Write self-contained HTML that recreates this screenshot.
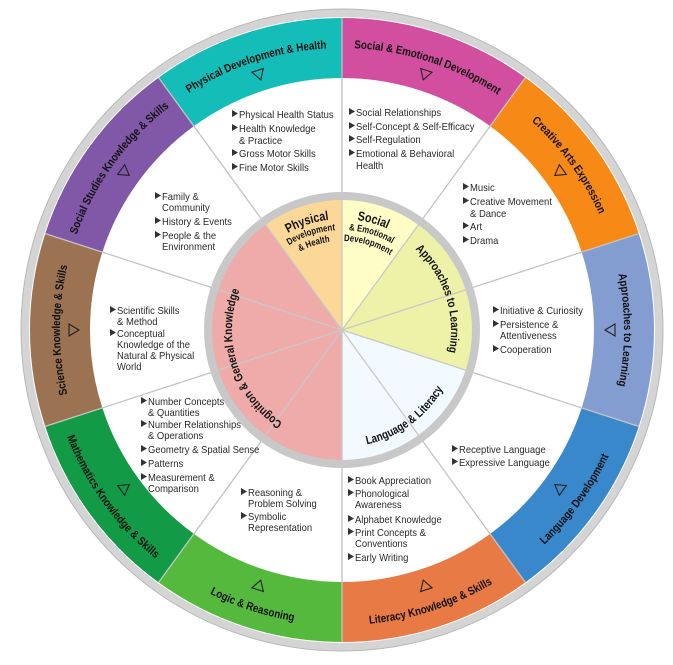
<!DOCTYPE html>
<html><head><meta charset="utf-8">
<style>
html,body{margin:0;padding:0;background:#fff;width:673px;height:665px;overflow:hidden}
svg{display:block}
.b{font-family:"Liberation Sans Narrow","Liberation Sans",sans-serif;font-weight:bold;fill:#111}
.l{font-family:"Liberation Sans Narrow","Liberation Sans",sans-serif;font-size:10.5px;fill:#2a2a2a}
</style></head>
<body>
<svg id="s" width="673" height="665" viewBox="0 0 673 665" xmlns="http://www.w3.org/2000/svg"></svg>
<script>
const cx=342,cy=330;
const s=document.getElementById('s');
function rad(a){return a*Math.PI/180}
function pt(r,a){return [cx+r*Math.sin(rad(a)),cy-r*Math.cos(rad(a))]}
function f(p){return p[0].toFixed(2)+" "+p[1].toFixed(2)}
let h='';
h+=`<circle cx="${cx}" cy="${cy}" r="321" fill="#d4d4d4" stroke="#b8b8b8" stroke-width="1"/>`;
h+=`<circle cx="${cx}" cy="${cy}" r="313" fill="#fff"/>`;
function band(R,r,a1,a2,col){
 return `<path d="M${f(pt(R,a1))} A${R} ${R} 0 0 1 ${f(pt(R,a2))} L${f(pt(r,a2))} A${r} ${r} 0 0 0 ${f(pt(r,a1))} Z" fill="${col}"/>`;
}
const segs=[
 [0,"#d24e9f","Social & Emotional Development"],
 [36,"#f78a16","Creative Arts Expression"],
 [72,"#849dd0","Approaches to Learning"],
 [108,"#3a88cc","Language Development"],
 [144,"#e87a45","Literacy Knowledge & Skills"],
 [180,"#55b93d","Logic & Reasoning"],
 [216,"#129a47","Mathematics Knowledge & Skills"],
 [252,"#9b7353","Science Knowledge & Skills"],
 [288,"#8157a7","Social Studies Knowledge & Skills"],
 [324,"#14bdb8","Physical Development & Health"]];
let defs='';
segs.forEach((g,i)=>{h+=band(312,252,g[0],g[0]+36,g[1]);});
for(let i=0;i<10;i++){const a=i*36;const p1=pt(137,a),p2=pt(312,a);h+=`<line x1="${p1[0].toFixed(2)}" y1="${p1[1].toFixed(2)}" x2="${p2[0].toFixed(2)}" y2="${p2[1].toFixed(2)}" stroke="#c4c4c4" stroke-width="1.3"/>`;}
segs.forEach((g,i)=>{
 const c=g[0]+18;const ccw=(c>90&&c<250);
 const rr=ccw?295:282;
 let d;
 if(!ccw) d=`M${f(pt(rr,c-60))} A${rr} ${rr} 0 0 1 ${f(pt(rr,c+60))}`;
 else d=`M${f(pt(rr,c+60))} A${rr} ${rr} 0 0 0 ${f(pt(rr,c-60))}`;
 defs+=`<path id="p${i}" d="${d}"/>`;
 h+=`<text class="b sq" data-k="0.85" font-size="11.5"><textPath href="#p${i}" startOffset="50%" text-anchor="middle">${g[2].replace(/&/g,'&amp;')}</textPath></text>`;
 const t=pt(268,c);
 h+=`<g transform="translate(${t[0].toFixed(1)} ${t[1].toFixed(1)}) rotate(${c})"><path d="M-6 -5 L6 -5 L0 5 Z" fill="none" stroke="#222" stroke-width="1.1"/></g>`;
});
h+=`<circle cx="${cx}" cy="${cy}" r="138" fill="#c8c8c8"/>`;
function sector(r,a1,a2,col){const large=(a2-a1)>180?1:0;return `<path d="M${cx} ${cy} L${f(pt(r,a1))} A${r} ${r} 0 ${large} 1 ${f(pt(r,a2))} Z" fill="${col}"/>`;}
h+=sector(130,324,360,"#fcd898");
h+=sector(130,0,36,"#fefdc6");
h+=sector(130,36,108,"#edf2a8");
h+=sector(130,108,180,"#f3faff");
h+=sector(130,180,324,"#efaaaa");
for(let i=0;i<10;i++){const p=pt(130,i*36);h+=`<line x1="${cx}" y1="${cy}" x2="${p[0].toFixed(2)}" y2="${p[1].toFixed(2)}" stroke="#c8c8c8" stroke-width="1.3"/>`;}
function arcText(id,r,c,span,cw,txt,size){
 let d=cw?`M${f(pt(r,c-span))} A${r} ${r} 0 0 1 ${f(pt(r,c+span))}`:`M${f(pt(r,c+span))} A${r} ${r} 0 0 0 ${f(pt(r,c-span))}`;
 defs+=`<path id="${id}" d="${d}"/>`;
 h+=`<text class="b sq" data-k="0.82" font-size="${size}"><textPath href="#${id}" startOffset="50%" text-anchor="middle">${txt}</textPath></text>`;
}
arcText("i1",111,342,40,true,"Physical",13);
arcText("i2",100,342,40,true,"Development",9.5);
arcText("i3",89,342,40,true,"&amp; Health",9.5);
arcText("i4",111,16,40,true,"Social",13);
arcText("i5",100,17,40,true,"&amp; Emotional",9.5);
arcText("i6",89,17,40,true,"Development",9.5);
arcText("i7",109,72,70,true,"Approaches to Learning",12);
arcText("i8",117,144,70,false,"Language &amp; Literacy",12);
arcText("i9",110,252,80,true,"Cognition &amp; General Knowledge",12);
const L=[
 [232,[[118,"Physical Health Status"],[132,"Health Knowledge"],[144,"& Practice",1],[157,"Gross Motor Skills"],[171,"Fine Motor Skills"]]],
 [349,[[116,"Social Relationships"],[130,"Self-Concept & Self-Efficacy"],[143,"Self-Regulation"],[157,"Emotional & Behavioral"],[169,"Health",1]]],
 [463,[[191,"Music"],[205,"Creative Movement"],[217,"& Dance",1],[230,"Art"],[244,"Drama"]]],
 [493,[[314,"Initiative & Curiosity"],[328,"Persistence &"],[339,"Attentiveness",1],[353,"Cooperation"]]],
 [452,[[453,"Receptive Language"],[466,"Expressive Language"]]],
 [348,[[484,"Book Appreciation"],[497,"Phonological"],[508,"Awareness",1],[523,"Alphabet Knowledge"],[536,"Print Concepts &"],[547,"Conventions",1],[561,"Early Writing"]]],
 [241,[[496,"Reasoning &"],[507,"Problem Solving",1],[520,"Symbolic"],[531,"Representation",1]]],
 [141,[[405,"Number Concepts"],[416,"& Quantities",1],[428,"Number Relationships"],[439,"& Operations",1],[453,"Geometry & Spatial Sense"],[467,"Patterns"],[481,"Measurement &"],[492,"Comparison",1]]],
 [110,[[314,"Scientific Skills"],[325,"& Method",1],[337,"Conceptual"],[348,"Knowledge of the",1],[359,"Natural & Physical",1],[370,"World",1]]],
 [155,[[200,"Family &"],[211,"Community",1],[225,"History & Events"],[239,"People & the"],[250,"Environment",1]]]
];
L.forEach(g=>{const x=g[0];g[1].forEach(it=>{
 const t=it[1].replace(/&/g,'&amp;');
 if(!it[2]) h+=`<path d="M${x} ${it[0]-8} L${x+6} ${it[0]-4.5} L${x} ${it[0]-1} Z" fill="#333"/>`;
 h+=`<text class="l sq" data-k="0.9" x="${x+7}" y="${it[0]}">${t}</text>`;
});});
s.innerHTML=`<defs>${defs}</defs>`+h;
document.querySelectorAll('.sq').forEach(el=>{
 const k=parseFloat(el.getAttribute('data-k'));
 const tgt=el.querySelector('textPath')||el;
 const w=el.getComputedTextLength();
 if(w>0){tgt.setAttribute('textLength',(w*k).toFixed(1));tgt.setAttribute('lengthAdjust','spacingAndGlyphs');}
});
</script>
</body></html>
